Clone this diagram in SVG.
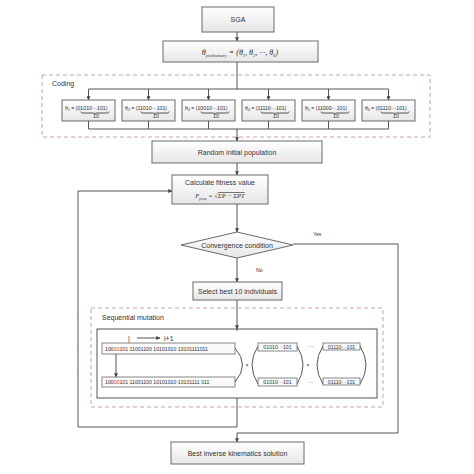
<svg xmlns="http://www.w3.org/2000/svg" width="474" height="474" viewBox="0 0 474 474">
<defs>
<linearGradient id="g" x1="0" y1="0" x2="0" y2="1"><stop offset="0" stop-color="#ffffff"/><stop offset="1" stop-color="#e6e6e6"/></linearGradient>
<marker id="a" viewBox="0 0 6 6" refX="5.5" refY="3" markerWidth="4" markerHeight="4" orient="auto"><path d="M0,0 L6,3 L0,6 z" fill="#444"/></marker>
<style>
.b{fill:url(#g);stroke:#6a6a6a;stroke-width:1}
.s{fill:#fafafa;stroke:#6a6a6a;stroke-width:0.8}
.l{fill:none;stroke:#555;stroke-width:1}
.d{fill:none;stroke:#c9a3a3;stroke-width:1;stroke-dasharray:4 3}
.t{font-family:"Liberation Sans",Arial,sans-serif;font-size:7px;fill:#333}
.m{font-family:"Liberation Serif","DejaVu Serif",serif;font-style:italic;fill:#333}
.r{font-family:"Liberation Sans",Arial,sans-serif;font-size:5.2px;fill:#333}
</style>
</defs>

<g id="connectors">
<path class="l" d="M237,32 V41" marker-end="url(#a)"/>
<path class="l" d="M237,62 V89"/>
<path class="l" d="M88.5,89 H388.5"/>
<path class="l" d="M88.5,89 V100" marker-end="url(#a)"/>
<path class="l" d="M148.5,89 V100" marker-end="url(#a)"/>
<path class="l" d="M208.5,89 V100" marker-end="url(#a)"/>
<path class="l" d="M268.5,89 V100" marker-end="url(#a)"/>
<path class="l" d="M328.5,89 V100" marker-end="url(#a)"/>
<path class="l" d="M388.5,89 V100" marker-end="url(#a)"/>
<path class="l" d="M88.5,121 V129 H388.5 M148.5,121 V129 M208.5,121 V129 M268.5,121 V129 M328.5,121 V129 M388.5,121 V129"/>
<path class="l" d="M237,129 V141" marker-end="url(#a)"/>
<path class="l" d="M237,163 V175" marker-end="url(#a)"/>
<path class="l" d="M237,204 V232" marker-end="url(#a)"/>
<path class="l" d="M237,258 V282" marker-end="url(#a)"/>
<path class="l" d="M237,300 V329" marker-end="url(#a)"/>
<path class="l" d="M237,398 V427 H78 V191 H172" marker-end="url(#a)"/>
<path class="l" d="M293,244 H398 V433 H237 V442" marker-end="url(#a)"/>
</g>

<g id="sga"><rect class="b" x="202" y="7" width="72" height="25"/><text class="t" x="238" y="22" text-anchor="middle">SGA</text></g>

<g id="theta"><rect class="b" x="163" y="41" width="155" height="21"/>
<text class="m" x="240" y="55" text-anchor="middle" font-size="8">θ<tspan font-size="4.5" dy="2">preliminary</tspan><tspan dy="-2"> = (θ</tspan><tspan font-size="4.5" dy="2">1</tspan><tspan dy="-2">, θ</tspan><tspan font-size="4.5" dy="2">2</tspan><tspan dy="-2">, ···, θ</tspan><tspan font-size="4.5" dy="2">6</tspan><tspan dy="-2">)</tspan></text></g>

<g id="coding">
<rect class="d" x="42" y="75" width="388" height="62"/>
<text class="t" x="52" y="86">Coding</text>
<g id="code1"><rect class="b" x="62" y="100" width="53" height="21"/><text class="r" x="65" y="110">θ<tspan font-size="3.5" dy="1">1</tspan><tspan dy="-1"> = (01010···101)</tspan></text><path class="l" stroke-width="0.5" d="M81,111.5 q0,1.5 1.5,1.5 h11 q1.5,0 1.5,1.5 q0,-1.5 1.5,-1.5 h11 q1.5,0 1.5,-1.5"/><text class="r" font-size="3.5" x="96" y="118" text-anchor="middle">10</text></g>
<g id="code2"><rect class="b" x="122" y="100" width="53" height="21"/><text class="r" x="125" y="110">θ<tspan font-size="3.5" dy="1">2</tspan><tspan dy="-1"> = (11010···101)</tspan></text><path class="l" stroke-width="0.5" d="M141,111.5 q0,1.5 1.5,1.5 h11 q1.5,0 1.5,1.5 q0,-1.5 1.5,-1.5 h11 q1.5,0 1.5,-1.5"/><text class="r" font-size="3.5" x="156" y="118" text-anchor="middle">10</text></g>
<g id="code3"><rect class="b" x="182" y="100" width="53" height="21"/><text class="r" x="185" y="110">θ<tspan font-size="3.5" dy="1">3</tspan><tspan dy="-1"> = (10010···101)</tspan></text><path class="l" stroke-width="0.5" d="M201,111.5 q0,1.5 1.5,1.5 h11 q1.5,0 1.5,1.5 q0,-1.5 1.5,-1.5 h11 q1.5,0 1.5,-1.5"/><text class="r" font-size="3.5" x="216" y="118" text-anchor="middle">10</text></g>
<g id="code4"><rect class="b" x="242" y="100" width="53" height="21"/><text class="r" x="245" y="110">θ<tspan font-size="3.5" dy="1">4</tspan><tspan dy="-1"> = (11110···101)</tspan></text><path class="l" stroke-width="0.5" d="M261,111.5 q0,1.5 1.5,1.5 h11 q1.5,0 1.5,1.5 q0,-1.5 1.5,-1.5 h11 q1.5,0 1.5,-1.5"/><text class="r" font-size="3.5" x="276" y="118" text-anchor="middle">10</text></g>
<g id="code5"><rect class="b" x="302" y="100" width="53" height="21"/><text class="r" x="305" y="110">θ<tspan font-size="3.5" dy="1">5</tspan><tspan dy="-1"> = (11000···101)</tspan></text><path class="l" stroke-width="0.5" d="M321,111.5 q0,1.5 1.5,1.5 h11 q1.5,0 1.5,1.5 q0,-1.5 1.5,-1.5 h11 q1.5,0 1.5,-1.5"/><text class="r" font-size="3.5" x="336" y="118" text-anchor="middle">10</text></g>
<g id="code6"><rect class="b" x="362" y="100" width="53" height="21"/><text class="r" x="365" y="110">θ<tspan font-size="3.5" dy="1">6</tspan><tspan dy="-1"> = (01110···101)</tspan></text><path class="l" stroke-width="0.5" d="M381,111.5 q0,1.5 1.5,1.5 h11 q1.5,0 1.5,1.5 q0,-1.5 1.5,-1.5 h11 q1.5,0 1.5,-1.5"/><text class="r" font-size="3.5" x="396" y="118" text-anchor="middle">10</text></g>
</g>

<g id="random"><rect class="b" x="152" y="141" width="170" height="22"/><text class="t" x="237" y="155" text-anchor="middle">Random initial population</text></g>

<g id="fitness"><rect class="b" x="172" y="175" width="96" height="29"/><text class="t" x="220" y="185" text-anchor="middle">Calculate fitness value</text>
<text class="m" x="220" y="198" text-anchor="middle" font-size="6.5">F<tspan font-size="4" dy="1.5">pose</tspan><tspan dy="-1.5"> = √</tspan><tspan text-decoration="overline">ΣP − ΣPT</tspan></text></g>

<g id="convergence"><path class="b" d="M181,245 L237,232 L293,245 L237,258 Z"/><text class="t" x="237" y="247.5" text-anchor="middle">Convergence condition</text>
<text class="r" x="313" y="236">Yes</text><text class="r" x="256" y="272">No</text></g>

<g id="select"><rect class="b" x="193" y="282" width="89" height="18"/><text class="t" x="237.5" y="293.5" text-anchor="middle">Select best 10 individuals</text></g>

<g id="mutation">
<rect class="d" x="91" y="308" width="292" height="99"/>
<text class="t" x="102" y="320">Sequential mutation</text>
<rect fill="#fff" stroke="#555" stroke-width="1" x="97" y="329" width="280" height="69"/>
<path class="l" d="M237,329 V331"/>
<text class="t" x="128" y="341">|</text>
<path class="l" stroke-width="1.3" d="M137,338 H160" marker-end="url(#a)"/>
<text class="t" x="164" y="341" font-size="8">i+1</text>
<rect class="s" x="102" y="343" width="133" height="11"/>
<text class="r" x="105" y="350.5">100<tspan fill="#d33">10</tspan>101 11001100 10101010 10101111011</text>
<path class="l" stroke-width="0.8" d="M116,354 V377" marker-end="url(#a)"/>
<rect class="s" x="102" y="377" width="133" height="10"/>
<text class="r" x="105" y="384">100<tspan fill="#d33">00</tspan>101 11001100 10101010 10101111 011</text>
<path class="l" stroke-width="0.8" d="M235,348 Q250,365 235,382"/>
<text class="r" x="247" y="366.5" text-anchor="middle" fill="#777">×</text>
<path class="l" stroke-width="0.8" d="M258,346 Q246,365 258,384"/>
<path class="l" stroke-width="0.8" d="M297,346 Q309,365 297,384"/>
<rect class="s" x="258" y="343" width="39" height="8"/><text class="r" x="277.5" y="349" text-anchor="middle" font-size="5">01010···101</text>
<rect class="s" x="258" y="378" width="39" height="8"/><text class="r" x="277.5" y="384" text-anchor="middle" font-size="5">01010···101</text>
<text class="r" x="311" y="348" text-anchor="middle" font-size="6">···</text>
<text class="r" x="311" y="384" text-anchor="middle" font-size="6">···</text>
<text class="r" x="308" y="366.5" text-anchor="middle" fill="#777">×</text>
<path class="l" stroke-width="0.8" d="M323,346 Q311,365 323,384"/>
<path class="l" stroke-width="0.8" d="M360,346 Q372,365 360,384"/>
<rect class="s" x="323" y="343" width="37" height="7"/><text class="r" x="341.5" y="348.5" text-anchor="middle" font-size="4.5">01110···101</text>
<rect class="s" x="323" y="378" width="37" height="7"/><text class="r" x="341.5" y="383.5" text-anchor="middle" font-size="4.5">01110···101</text>
</g>

<g id="best"><rect class="b" x="171" y="442" width="133" height="22"/><text class="t" x="237.5" y="455.5" text-anchor="middle">Best inverse kinematics solution</text></g>
</svg>
